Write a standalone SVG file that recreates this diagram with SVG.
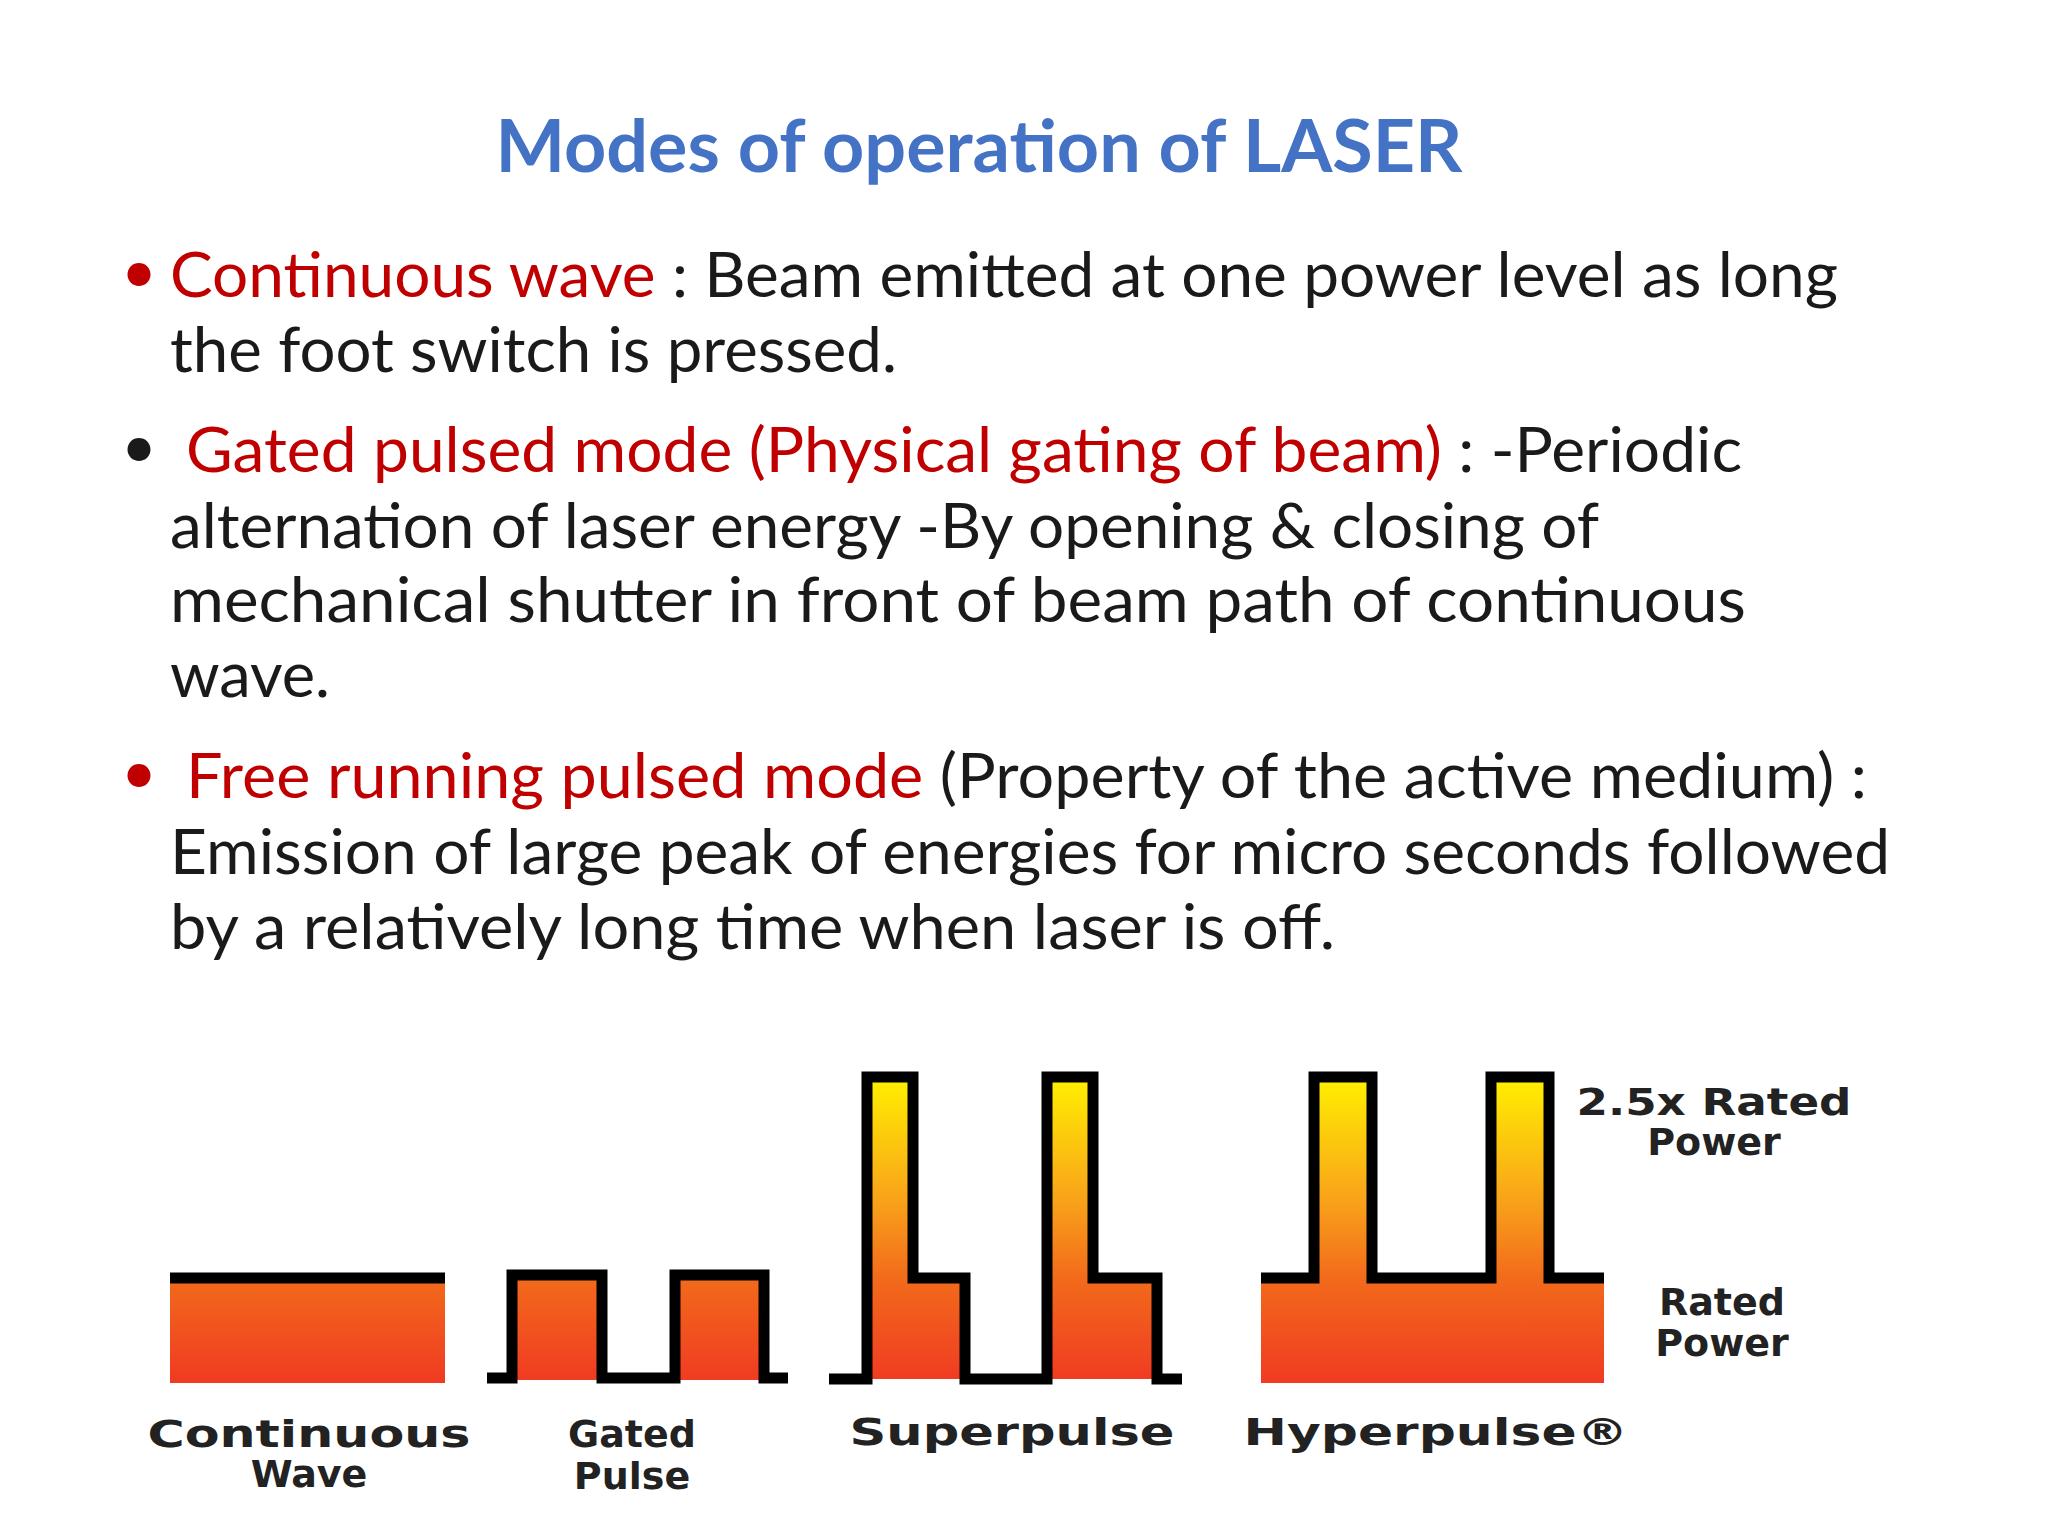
<svg xmlns="http://www.w3.org/2000/svg" width="2048" height="1536" viewBox="0 0 2048 1536">
<style>
.t{font-family:Lato,"Open Sans",sans-serif;font-size:62px;fill:#1a1a1a}
.r{fill:#C00000}
.b{font-family:Lato,sans-serif;font-size:62px}
.l{font-family:"DejaVu Sans",sans-serif;font-weight:bold;font-size:38px;fill:#222;text-anchor:middle}
.o{fill:none;stroke:#000;stroke-width:11;stroke-linejoin:miter}
</style>
<defs>
<linearGradient id="g" gradientUnits="userSpaceOnUse" x1="0" y1="1077" x2="0" y2="1383">
<stop offset="0" stop-color="#FFF000"/><stop offset="0.4" stop-color="#F9A31A"/><stop offset="0.66" stop-color="#F26A1B"/><stop offset="1" stop-color="#F03A22"/>
</linearGradient>
</defs>
<rect width="2048" height="1536" fill="#fff"/>
<text x="979" y="172" text-anchor="middle" style="font-family:Lato,sans-serif;font-weight:bold;font-size:72px;fill:#4472C4" textLength="967" lengthAdjust="spacingAndGlyphs">Modes of operation of LASER</text>
<g id="bullets">
<text x="121" y="293" class="b r">•</text>
<text x="121" y="468" class="b" fill="#1a1a1a">•</text>
<text x="121" y="794" class="b r">•</text>
</g>
<g id="text">
<text x="170" y="297" class="t" textLength="1668" lengthAdjust="spacingAndGlyphs"><tspan class="r">Continuous wave</tspan> : Beam emitted at one power level as long</text>
<text x="170" y="372" class="t" textLength="727" lengthAdjust="spacingAndGlyphs">the foot switch is pressed.</text>
<text x="186" y="472" class="t" textLength="1556" lengthAdjust="spacingAndGlyphs"><tspan class="r">Gated pulsed mode (Physical gating of beam)</tspan> : -Periodic</text>
<text x="170" y="548" class="t" textLength="1429" lengthAdjust="spacingAndGlyphs">alternation of laser energy -By opening &amp; closing of</text>
<text x="170" y="622" class="t" textLength="1576" lengthAdjust="spacingAndGlyphs">mechanical shutter  in front of beam path of  continuous</text>
<text x="170" y="697" class="t" textLength="160" lengthAdjust="spacingAndGlyphs">wave.</text>
<text x="186" y="798" class="t" textLength="1681" lengthAdjust="spacingAndGlyphs"><tspan class="r">Free running pulsed mode</tspan> (Property of the active medium) :</text>
<text x="170" y="874" class="t" textLength="1720" lengthAdjust="spacingAndGlyphs">Emission of large peak of energies for micro seconds followed</text>
<text x="170" y="949" class="t" textLength="1165" lengthAdjust="spacingAndGlyphs">by a relatively long time when  laser is off.</text>
</g>
<g id="continuous">
<rect x="170" y="1278" width="275" height="105" fill="url(#g)"/>
<path class="o" d="M170,1278 H445"/>
<text x="309" y="1447" class="l" textLength="323" lengthAdjust="spacingAndGlyphs">Continuous</text>
<text x="309" y="1487" class="l">Wave</text>
</g>
<g id="gated">
<path fill="url(#g)" d="M512,1275 H602 V1380 H512 Z M675,1275 H764 V1380 H675 Z"/>
<path class="o" d="M487,1378 H512 V1275 H602 V1378 H675 V1275 H764 V1378 H788"/>
<text x="632" y="1447" class="l">Gated</text>
<text x="632" y="1489" class="l">Pulse</text>
</g>
<g id="superpulse">
<path fill="url(#g)" d="M867,1379 V1077 H913 V1278 H965 V1379 Z M1047,1379 V1077 H1093 V1278 H1157 V1379 Z"/>
<path class="o" d="M829,1379 H867 V1077 H913 V1278 H965 V1379 H1047 V1077 H1093 V1278 H1157 V1379 H1182"/>
<text x="1012" y="1445" class="l" textLength="325" lengthAdjust="spacingAndGlyphs">Superpulse</text>
</g>
<g id="hyperpulse">
<path fill="url(#g)" d="M1261,1383 V1278 H1314 V1077 H1372 V1278 H1491 V1077 H1549 V1278 H1604 V1383 Z"/>
<path class="o" d="M1261,1278 H1314 V1077 H1372 V1278 H1491 V1077 H1549 V1278 H1604"/>
<text x="1436" y="1445" class="l" textLength="385" lengthAdjust="spacingAndGlyphs">Hyperpulse®</text>
<text x="1714" y="1115" class="l" textLength="275" lengthAdjust="spacingAndGlyphs">2.5x Rated</text>
<text x="1714" y="1155" class="l">Power</text>
<text x="1722" y="1315" class="l">Rated</text>
<text x="1722" y="1356" class="l">Power</text>
</g>
</svg>
